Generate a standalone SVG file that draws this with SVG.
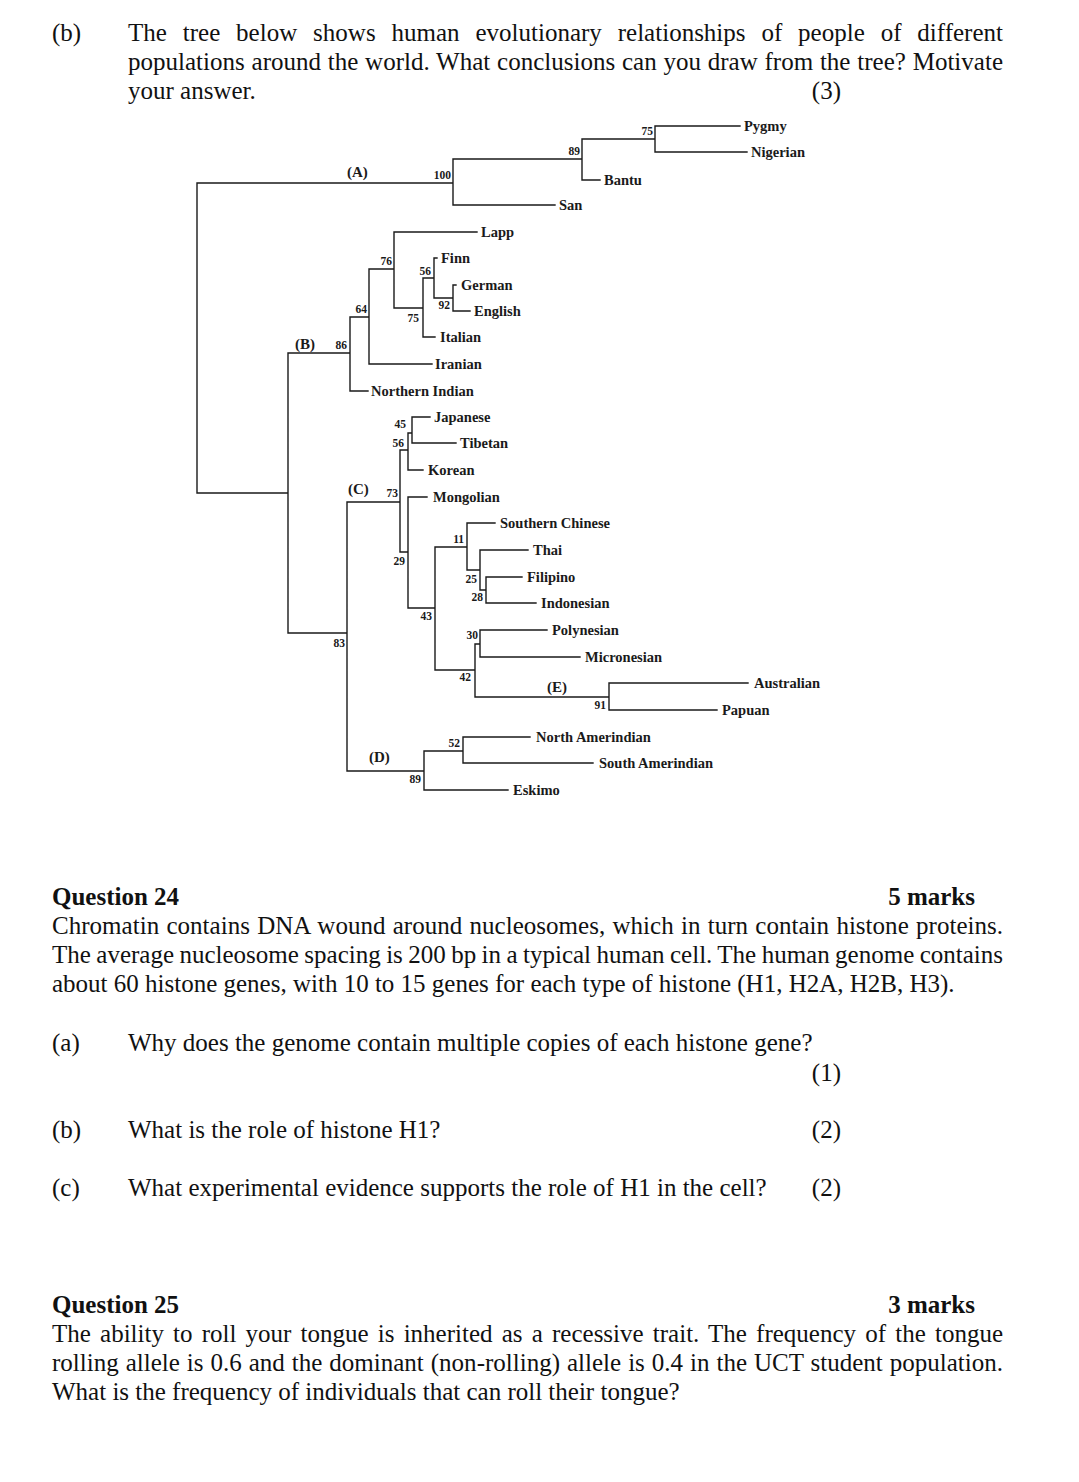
<svg xmlns="http://www.w3.org/2000/svg" width="1079" height="1482" viewBox="0 0 1079 1482">
<style>
.body{font-family:"Liberation Serif","Times New Roman",serif;font-size:25px;fill:#111}
.bold{font-weight:bold}
.leaf{font-family:"Liberation Serif","Times New Roman",serif;font-size:14.5px;font-weight:bold;fill:#1a1a1a}
.num{font-family:"Liberation Serif","Times New Roman",serif;font-size:11.5px;font-weight:bold;fill:#1a1a1a;text-anchor:end}
.clade{font-family:"Liberation Serif","Times New Roman",serif;font-size:15px;font-weight:bold;fill:#1a1a1a}
.edge{fill:none;stroke:#1a1a1a;stroke-width:1.4;stroke-linecap:square}
</style>
<rect width="1079" height="1482" fill="#ffffff"/>

<g id="question-b">
<text class="body" x="52" y="41">(b)</text>
<text class="body" x="128" y="41" word-spacing="9.6" textLength="875" lengthAdjust="spacing">The tree below shows human evolutionary relationships of people of different</text>
<text class="body" x="128" y="70" word-spacing="0.5" textLength="875" lengthAdjust="spacing">populations around the world. What conclusions can you draw from the tree? Motivate</text>
<text class="body" x="128" y="99">your answer.</text>
<text class="body" x="841" y="99" text-anchor="end">(3)</text>
</g>

<g id="connectors">
<path class="edge" d="M197 183V493 M197 183H453 M453 159V205 M453 159H582 M582 139V180 M582 139H655 M655 126V152 M655 126H740 M655 152H747 M582 180H600 M453 205H555
M197 493H288 M288 353V633 M288 353H350 M350 317V391 M350 317H369 M369 269V364 M369 269H394 M394 232V308 M394 232H477 M394 308H423 M423 278V337 M423 278H434 M434 258V298 M434 258H437 M434 298H453 M453 285V311 M453 285H456 M453 311H470 M423 337H435 M369 364H432 M350 391H368
M288 633H347 M347 502V771 M347 502H400 M400 450V552 M400 450H408 M408 433V470 M408 433H412 M412 417V443 M412 417H430 M412 443H456 M408 470H423 M400 552H408 M408 497V608 M408 497H427 M408 608H435 M435 547V670 M435 547H467 M467 523V570 M467 523H495 M467 570H480 M480 550V590 M480 550H528 M480 590H486 M486 577V603 M486 577H522 M486 603H536 M435 670H475 M475 644V697 M475 644H480 M480 630V657 M480 630H547 M480 657H580 M475 697H609 M609 683V710 M609 683H748 M609 710H717
M347 771H424 M424 751V790 M424 751H463 M463 737V763 M463 737H530 M463 763H593 M424 790H508"/>
</g>

<g id="support-values">
<text class="num" x="451" y="179">100</text>
<text class="num" x="580" y="155">89</text>
<text class="num" x="653" y="135">75</text>
<text class="num" x="392" y="265">76</text>
<text class="num" x="367" y="313">64</text>
<text class="num" x="347" y="349">86</text>
<text class="num" x="419" y="322">75</text>
<text class="num" x="431" y="275">56</text>
<text class="num" x="450" y="309">92</text>
<text class="num" x="406" y="428">45</text>
<text class="num" x="404" y="447">56</text>
<text class="num" x="398" y="497">73</text>
<text class="num" x="405" y="565">29</text>
<text class="num" x="464" y="543">11</text>
<text class="num" x="477" y="583">25</text>
<text class="num" x="483" y="601">28</text>
<text class="num" x="432" y="620">43</text>
<text class="num" x="478" y="639">30</text>
<text class="num" x="471" y="681">42</text>
<text class="num" x="606" y="709">91</text>
<text class="num" x="460" y="747">52</text>
<text class="num" x="421" y="783">89</text>
<text class="num" x="345" y="647">83</text>
</g>

<g id="clade-labels">
<text class="clade" x="347" y="177">(A)</text>
<text class="clade" x="295" y="349">(B)</text>
<text class="clade" x="348" y="494">(C)</text>
<text class="clade" x="369" y="762">(D)</text>
<text class="clade" x="547" y="692">(E)</text>
</g>

<g id="leaf-pygmy"><text class="leaf" x="744" y="131">Pygmy</text></g>
<g id="leaf-nigerian"><text class="leaf" x="751" y="157">Nigerian</text></g>
<g id="leaf-bantu"><text class="leaf" x="604" y="185">Bantu</text></g>
<g id="leaf-san"><text class="leaf" x="559" y="210">San</text></g>
<g id="leaf-lapp"><text class="leaf" x="481" y="237">Lapp</text></g>
<g id="leaf-finn"><text class="leaf" x="441" y="263">Finn</text></g>
<g id="leaf-german"><text class="leaf" x="461" y="290">German</text></g>
<g id="leaf-english"><text class="leaf" x="474" y="316">English</text></g>
<g id="leaf-italian"><text class="leaf" x="440" y="342">Italian</text></g>
<g id="leaf-iranian"><text class="leaf" x="435" y="369">Iranian</text></g>
<g id="leaf-northern-indian"><text class="leaf" x="371" y="396">Northern Indian</text></g>
<g id="leaf-japanese"><text class="leaf" x="434" y="422">Japanese</text></g>
<g id="leaf-tibetan"><text class="leaf" x="460" y="448">Tibetan</text></g>
<g id="leaf-korean"><text class="leaf" x="428" y="475">Korean</text></g>
<g id="leaf-mongolian"><text class="leaf" x="433" y="502">Mongolian</text></g>
<g id="leaf-southern-chinese"><text class="leaf" x="500" y="528">Southern Chinese</text></g>
<g id="leaf-thai"><text class="leaf" x="533" y="555">Thai</text></g>
<g id="leaf-filipino"><text class="leaf" x="527" y="582">Filipino</text></g>
<g id="leaf-indonesian"><text class="leaf" x="541" y="608">Indonesian</text></g>
<g id="leaf-polynesian"><text class="leaf" x="552" y="635">Polynesian</text></g>
<g id="leaf-micronesian"><text class="leaf" x="585" y="662">Micronesian</text></g>
<g id="leaf-australian"><text class="leaf" x="754" y="688">Australian</text></g>
<g id="leaf-papuan"><text class="leaf" x="722" y="715">Papuan</text></g>
<g id="leaf-north-amerindian"><text class="leaf" x="536" y="742">North Amerindian</text></g>
<g id="leaf-south-amerindian"><text class="leaf" x="599" y="768">South Amerindian</text></g>
<g id="leaf-eskimo"><text class="leaf" x="513" y="795">Eskimo</text></g>

<g id="question-24">
<text class="body bold" x="52" y="905">Question 24</text>
<text class="body bold" x="975" y="905" text-anchor="end">5 marks</text>
<text class="body" x="52" y="934" word-spacing="1.0" textLength="951" lengthAdjust="spacing">Chromatin contains DNA wound around nucleosomes, which in turn contain histone proteins.</text>
<text class="body" x="52" y="963" word-spacing="-0.8" textLength="951" lengthAdjust="spacing">The average nucleosome spacing is 200 bp in a typical human cell. The human genome contains</text>
<text class="body" x="52" y="992">about 60 histone genes, with 10 to 15 genes for each type of histone (H1, H2A, H2B, H3).</text>
<text class="body" x="52" y="1051">(a)</text>
<text class="body" x="128" y="1051">Why does the genome contain multiple copies of each histone gene?</text>
<text class="body" x="841" y="1081" text-anchor="end">(1)</text>
<text class="body" x="52" y="1138">(b)</text>
<text class="body" x="128" y="1138">What is the role of histone H1?</text>
<text class="body" x="841" y="1138" text-anchor="end">(2)</text>
<text class="body" x="52" y="1196">(c)</text>
<text class="body" x="128" y="1196">What experimental evidence supports the role of H1 in the cell?</text>
<text class="body" x="841" y="1196" text-anchor="end">(2)</text>
</g>

<g id="question-25">
<text class="body bold" x="52" y="1313">Question 25</text>
<text class="body bold" x="975" y="1313" text-anchor="end">3 marks</text>
<text class="body" x="52" y="1342" word-spacing="2.9" textLength="951" lengthAdjust="spacing">The ability to roll your tongue is inherited as a recessive trait. The frequency of the tongue</text>
<text class="body" x="52" y="1371" word-spacing="0.7" textLength="951" lengthAdjust="spacing">rolling allele is 0.6 and the dominant (non-rolling) allele is 0.4 in the UCT student population.</text>
<text class="body" x="52" y="1400">What is the frequency of individuals that can roll their tongue?</text>
</g>
</svg>
